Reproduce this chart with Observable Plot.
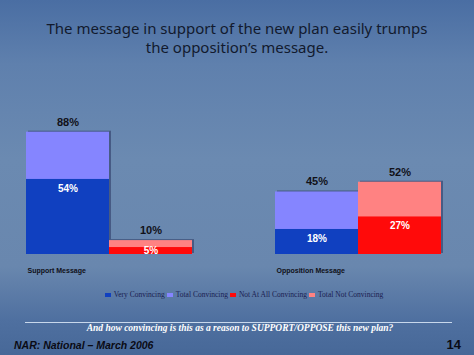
<!DOCTYPE html>
<html>
<head>
<meta charset="utf-8">
<script src="https://cdn.jsdelivr.net/npm/d3@7"></script>
<script src="https://cdn.jsdelivr.net/npm/@observablehq/plot@0.6"></script>
<style>
  html, body { margin: 0; padding: 0; }
  #page {
    position: relative; width: 474px; height: 355px; overflow: hidden;
    background: linear-gradient(180deg, #4a6ea3 0%, #5f80ad 18%, #6b8ab1 45%, #6987ae 75%, #4f70a0 90%, #476898 100%);
  }
  #title {
    position: absolute; left: 0; top: 19px; width: 474px; text-align: center;
    font-family: "Noto Sans", sans-serif; font-size: 15px; line-height: 19px; color: #121a2e;
  }
  #chart { position: absolute; left: 0; top: 100px; }
  #legend {
    position: absolute; left: 0; top: 290px; width: 474px; display: flex; justify-content: center;
    padding-left: 16px; box-sizing: border-box;
    font-family: "Liberation Serif", serif; font-size: 7.5px; color: #1a2050;
  }
  #legend span.item { display: inline-flex; align-items: center; margin-right: 2px; }
  #legend span.sw { display: inline-block; width: 6px; height: 4px; margin-right: 3px; }
  #rule { position: absolute; left: 25px; top: 322px; width: 427px; height: 1px; background: #c8d8ec; }
  #caption {
    position: absolute; left: 0; top: 323px; width: 480px; text-align: center;
    font-family: "Liberation Serif", serif; font-style: italic; font-weight: bold; font-size: 9.5px; color: #ffffff;
  }
  #footer {
    position: absolute; left: 14px; top: 339px;
    font-family: "Liberation Sans", sans-serif; font-style: italic; font-weight: bold; font-size: 10.5px; color: #0a0a14;
  }
  #pagenum {
    position: absolute; right: 13px; top: 337px;
    font-family: "Liberation Sans", sans-serif; font-weight: bold; font-size: 13px; color: #0a0a14;
  }
</style>
</head>
<body>
<div id="page">
  <div id="title">The message in support of the new plan easily trumps<br>the opposition’s message.</div>
  <div id="chart"></div>
  <div id="legend"></div>
  <div id="rule"></div>
  <div id="caption">And how convincing is this as a reason to SUPPORT/OPPOSE this new plan?</div>
  <div id="footer">NAR: National – March 2006</div>
  <div id="pagenum">14</div>
</div>
<script>
const messages = ["Support Message", "Opposition Message"];
const veryConvincing = [54, 18];
const totalConvincing = [88, 45];
const notAtAllConvincing = [5, 27];
const totalNotConvincing = [10, 52];
const seriesNames = ["Very Convincing", "Total Convincing", "Not At All Convincing", "Total Not Convincing"];
const seriesColors = ["#1040c0", "#8585ff", "#ff0a0a", "#ff8282"];
const sides = ["convincing", "not"];

// Build rows: totals (background bars) and inner parts (foreground bars)
const totals = [];
const parts = [];
messages.forEach((m, i) => {
  totals.push({message: m, side: "convincing", series: seriesNames[1], value: totalConvincing[i]});
  totals.push({message: m, side: "not", series: seriesNames[3], value: totalNotConvincing[i]});
  parts.push({message: m, side: "convincing", series: seriesNames[0], value: veryConvincing[i]});
  parts.push({message: m, side: "not", series: seriesNames[2], value: notAtAllConvincing[i]});
});
const labels = messages.map(m => ({message: m}));

const chart = Plot.plot({
  width: 474,
  height: 185,
  marginLeft: 25,
  marginRight: 32,
  marginTop: 15,
  marginBottom: 31,
  fx: {domain: messages, paddingInner: 0.328, paddingOuter: 0, axis: null},
  x: {domain: sides, padding: 0, axis: null},
  y: {domain: [0, 100], axis: null},
  color: {domain: seriesNames, range: seriesColors},
  style: {background: "transparent", overflow: "visible"},
  marks: [
    // 3D-ish shadow
    Plot.barY(totals, {fx: "message", x: "side", y: "value", fill: "#2a3560", fillOpacity: 0.55, dx: 2, dy: -1}),
    Plot.barY(totals, {fx: "message", x: "side", y: "value", fill: "series"}),
    Plot.barY(parts, {fx: "message", x: "side", y: "value", fill: "series"}),
    // total labels above
    Plot.text(totals, {fx: "message", x: "side", y: "value", text: d => d.value + "%", dy: -10,
      fill: "#111118", fontWeight: "bold", fontSize: 11, fontFamily: "Liberation Sans, Arial, sans-serif"}),
    // inner labels
    Plot.text(parts.filter(d => d.value >= 10), {fx: "message", x: "side", y: "value", text: d => d.value + "%", dy: 9,
      fill: "white", fontWeight: "bold", fontSize: 10, fontFamily: "Liberation Sans, Arial, sans-serif"}),
    Plot.text(parts.filter(d => d.value < 10), {fx: "message", x: "side", y: d => d.value / 2, text: d => d.value + "%", dy: 0,
      fill: "white", fontWeight: "bold", fontSize: 10, fontFamily: "Liberation Sans, Arial, sans-serif"}),
    // category labels
    Plot.text(labels, {fx: "message", text: "message", frameAnchor: "bottom-left", textAnchor: "start", dx: 2, dy: 18,
      fill: "#101018", fontWeight: "bold", fontSize: 7, fontFamily: "Liberation Sans, Arial, sans-serif"})
  ]
});
document.getElementById("chart").appendChild(chart);

// legend
const legend = document.getElementById("legend");
seriesNames.forEach((s, i) => {
  const item = document.createElement("span");
  item.className = "item";
  const sw = document.createElement("span");
  sw.className = "sw";
  sw.style.background = seriesColors[i];
  item.appendChild(sw);
  item.appendChild(document.createTextNode(s));
  legend.appendChild(item);
});
</script>
</body>
</html>
